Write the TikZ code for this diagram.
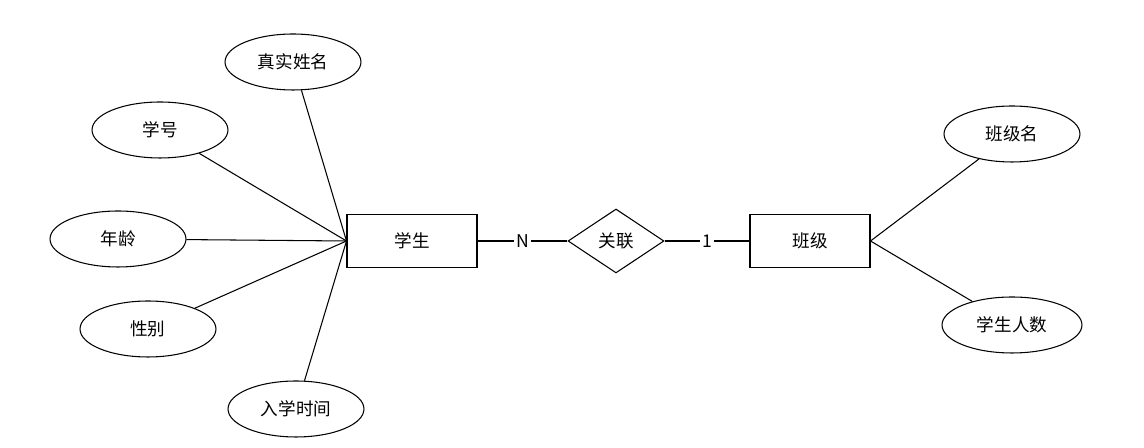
\documentclass[tikz,border=0pt]{standalone}
\usepackage{fontspec}
\setmainfont{Noto Sans CJK SC}
\usetikzlibrary{shapes.geometric}
\begin{document}
\begin{tikzpicture}[x=0.02cm,y=-0.02cm,line width=0.6pt,
  attr/.style={draw,ellipse,minimum width=2.72cm,minimum height=1.12cm,inner sep=0pt,font=\fontsize{10}{12}\selectfont},
  ent/.style={draw,rectangle,minimum height=1.06cm,inner sep=0pt,font=\fontsize{10}{12}\selectfont},
  rel/.style={draw,diamond,aspect=1.5,minimum width=1.92cm,minimum height=1.28cm,inner sep=0pt,font=\fontsize{10}{12}\selectfont},
  lab/.style={fill=white,inner sep=1pt,font=\fontsize{10}{12}\selectfont}]
\useasboundingbox (0,0) rectangle (1144,448);
\node[ent,minimum width=2.6cm] (s) at (412,241) {学生};
\node[ent,minimum width=2.4cm] (c) at (810,241) {班级};
\node[rel] (r) at (616,241) {关联};
\node[attr] (a1) at (293,62) {真实姓名};
\node[attr] (a2) at (160,130) {学号};
\node[attr] (a3) at (118,239) {年龄};
\node[attr] (a4) at (148,329) {性别};
\node[attr] (a5) at (296,409) {入学时间};
\node[attr] (b1) at (1012,134) {班级名};
\node[attr,minimum width=2.8cm] (b2) at (1012,325) {学生人数};
\foreach \a in {a1,a2,a3,a4,a5} \draw (\a) -- (s.west);
\foreach \b in {b1,b2} \draw (c.east) -- (\b);
\draw (s.east) -- node[lab,pos=0.5] {N} (r.west);
\draw (r.east) -- node[lab,pos=0.5] {1} (c.west);
\end{tikzpicture}
\end{document}
